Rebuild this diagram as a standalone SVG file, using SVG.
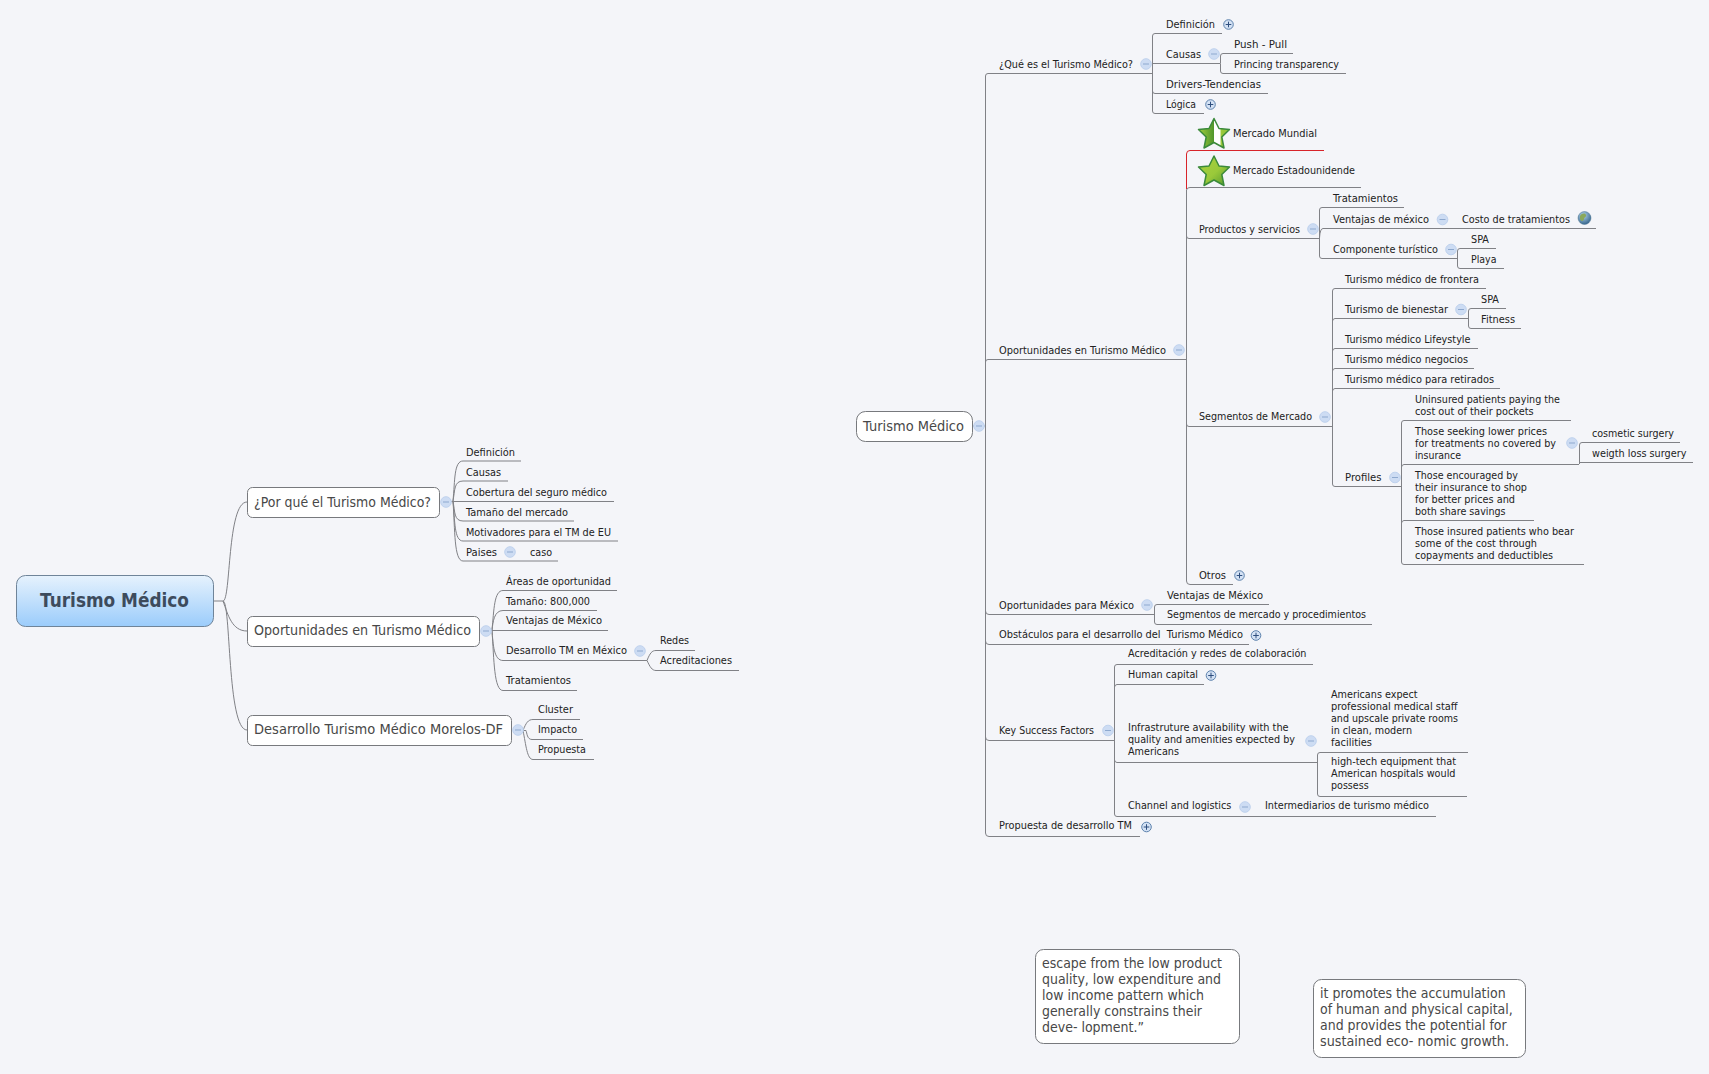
<svg xmlns="http://www.w3.org/2000/svg" width="1709" height="1074" viewBox="0 0 1709 1074">
<style>
text{font-family:"DejaVu Sans","Liberation Sans",sans-serif;white-space:pre}
.t{font-size:10.5px;fill:#222}
.b{font-size:13.5px;fill:#484848}
.r{font-size:19.5px;font-weight:bold;fill:#3d4b5c}
.box{fill:#fff;stroke:#77797d;stroke-width:1}
#connectors path{fill:none;stroke:#808186;stroke-width:1}
#connectors path.red{stroke:#d8242a}
</style>
<defs>
<linearGradient id="rootFill" x1="0" y1="0" x2="0" y2="1"><stop offset="0" stop-color="#e6f2fd"/><stop offset="1" stop-color="#9bccfb"/></linearGradient>
<linearGradient id="starFill" x1="0" y1="0" x2="1" y2="1"><stop offset="0" stop-color="#a9d23f"/><stop offset=".55" stop-color="#9ac93a"/><stop offset="1" stop-color="#4f962c"/></linearGradient>
<linearGradient id="starHalf" x1="0" y1="0" x2="1" y2="0"><stop offset="0" stop-color="#a5cf3c"/><stop offset=".5" stop-color="#4f962c"/><stop offset=".5" stop-color="#fff"/><stop offset=".68" stop-color="#fff"/><stop offset=".74" stop-color="#9ac93a"/><stop offset="1" stop-color="#8cc23a"/></linearGradient>
<radialGradient id="globeFill" cx=".4" cy=".3" r=".75"><stop offset="0" stop-color="#b4d6ee"/><stop offset="1" stop-color="#2f5f86"/></radialGradient>
<g id="minus"><circle r="5.3" fill="#cddcf3" stroke="#bfd2ee"/><path d="M-3,0H3" stroke="#8ea9cf" stroke-width="1"/></g>
<g id="plus"><circle r="4.8" fill="#d3e1f4" stroke="#5d82ad"/><path d="M-2.8,0H2.8M0,-2.8V2.8" stroke="#2f4f7f" stroke-width="1"/></g>
<polygon id="star" points="0,-15 5,-5 15.5,-4 7.8,3.5 10,14.5 0,9 -10,14.5 -7.8,3.5 -15.5,-4 -5,-5" stroke="#3b8a3b" stroke-width="1.5" stroke-linejoin="round"/>
</defs>
<rect width="1709" height="1074" fill="#f4f5f9"/>
<g id="connectors">
<path d="M213,601H223M223,601C231,601 227,502 247,502M223,601C228,615 232,631 247,631M223,601C231,601 227,730 247,730"/>
<path d="M451,501.5H614M453,501C455,480 454,461 463,461H521M453,501C455,490 454,481 463,481H508M453,501C455,512 454,521 463,521H574M453,501C455,520 454,541 463,541H618M453,501C455,530 454,561 463,561H558"/>
<path d="M491,630.5H608M492,630C494,610 494,590.5 503,590.5H617M492,630C493,622 494,610.5 503,610.5H597M492,630C493,645 494,660.5 503,660.5H647M492,630C494,660 494,690.5 503,690.5H577"/>
<path d="M647,660.5C650,653 652,650.5 656,650.5H695M647,660.5C650,667 652,670.5 656,670.5H739"/>
<path d="M523,730.5C526,723 528,719.5 533,719.5H580M523,730.5H526C527,733 527,739.5 532,739.5H583M523,730.5C526,745 527,759.5 533,759.5H594"/>
<path d="M985.5,426H973M985.5,426V76Q985.5,73.5 988,73.5H1152M985.5,426V362Q985.5,359.5 988,359.5H1186M985.5,426V833Q985.5,836.5 989,836.5H1140M985.5,611Q985.5,614.5 989,614.5H1154M985.5,641Q985.5,644.5 989,644.5H1249M985.5,737Q985.5,740.5 989,740.5H1114"/>
<path d="M1152.5,73V36Q1152.5,33.5 1155,33.5H1222M1152.5,73V111Q1152.5,113.5 1155,113.5H1204M1152.5,63.5H1220M1152.5,91Q1152.5,93.5 1155,93.5H1268"/>
<path d="M1220.5,63.5V56Q1220.5,53.5 1223,53.5H1293M1220.5,63.5V71Q1220.5,73.5 1223,73.5H1346"/>
<path d="M1186.5,190V581Q1186.5,584.5 1190,584.5H1233M1186.5,190Q1187,187.5 1190,187.5H1361M1186.5,236Q1186.5,238.5 1189,238.5H1319M1186.5,424Q1186.5,426.5 1189,426.5H1332"/>
<path class="red" d="M1186.5,189V154Q1186.5,150.5 1190,150.5H1324"/>
<path d="M1319.5,238V210Q1319.5,207.5 1322,207.5H1404M1319.5,238V256Q1319.5,258.5 1322,258.5H1457M1319.5,238Q1320,228.5 1323,228.5H1596"/>
<path d="M1457.5,258V251Q1457.5,248.5 1460,248.5H1496M1457.5,258V266Q1457.5,268.5 1460,268.5H1504"/>
<path d="M1332.5,426V291Q1332.5,288.5 1335,288.5H1486M1332.5,426V484Q1332.5,486.5 1335,486.5H1401M1332.5,321Q1333,318.5 1335,318.5H1468M1332.5,351Q1333,348.5 1335,348.5H1478M1332.5,371Q1333,368.5 1335,368.5H1474M1332.5,391Q1333,388.5 1335,388.5H1500"/>
<path d="M1468.5,318V311Q1468.5,308.5 1471,308.5H1506M1468.5,318V326Q1468.5,328.5 1471,328.5H1521"/>
<path d="M1401.5,486V423Q1401.5,420.5 1404,420.5H1571M1401.5,486V562Q1401.5,564.5 1404,564.5H1584M1401.5,467Q1402,464.5 1404,464.5H1579M1401.5,523Q1402,520.5 1404,520.5H1534"/>
<path d="M1579.5,464V445Q1579.5,442.5 1582,442.5H1680M1579.5,462.5H1693"/>
<path d="M1154.5,614V607Q1154.5,604.5 1157,604.5H1269M1154.5,614V622Q1154.5,624.5 1157,624.5H1372"/>
<path d="M1114.5,740V667Q1114.5,664.5 1117,664.5H1313M1114.5,740V814Q1114.5,816.5 1117,816.5H1436M1114.5,687Q1115,684.5 1117,684.5H1204M1114.5,760Q1115,762.5 1117,762.5H1318"/>
<path d="M1317.5,762V755Q1317.5,752.5 1320,752.5H1468M1317.5,762V794Q1317.5,796.5 1320,796.5H1467"/>
</g>
<g id="node-root-left"><rect x="16.5" y="575.5" width="197" height="51" rx="9" fill="url(#rootFill)" stroke="#6f8499"/><text class="r" x="40" y="607" textLength="149" lengthAdjust="spacingAndGlyphs">Turismo Médico</text></g>
<g id="node-por-que"><rect class="box" x="247.5" y="487.5" width="192" height="30" rx="5"/><text class="b" x="254" y="506.5" textLength="177" lengthAdjust="spacingAndGlyphs">¿Por qué el Turismo Médico?</text><use href="#minus" x="446" y="502"/></g>
<g id="node-oportunidades-left"><rect class="box" x="247.5" y="616.5" width="232" height="30" rx="5"/><text class="b" x="254" y="635" textLength="217" lengthAdjust="spacingAndGlyphs">Oportunidades en Turismo Médico</text><use href="#minus" x="486" y="631"/></g>
<g id="node-desarrollo-left"><rect class="box" x="247.5" y="715.5" width="264" height="30" rx="5"/><text class="b" x="254" y="734" textLength="249" lengthAdjust="spacingAndGlyphs">Desarrollo Turismo Médico Morelos-DF</text><use href="#minus" x="518" y="730"/></g>
<g id="node-l-definicion"><text class="t" x="466" y="455.5" textLength="49" lengthAdjust="spacingAndGlyphs">Definición</text></g>
<g id="node-l-causas"><text class="t" x="466" y="475.5" textLength="35" lengthAdjust="spacingAndGlyphs">Causas</text></g>
<g id="node-l-cobertura"><text class="t" x="466" y="495.5" textLength="141" lengthAdjust="spacingAndGlyphs">Cobertura del seguro médico</text></g>
<g id="node-l-tamano"><text class="t" x="466" y="515.5" textLength="102" lengthAdjust="spacingAndGlyphs">Tamaño del mercado</text></g>
<g id="node-l-motivadores"><text class="t" x="466" y="535.5" textLength="145" lengthAdjust="spacingAndGlyphs">Motivadores para el TM de EU</text></g>
<g id="node-l-paises"><text class="t" x="466" y="555.5" textLength="31" lengthAdjust="spacingAndGlyphs">Paises</text><use href="#minus" x="510" y="552"/></g>
<g id="node-l-caso"><text class="t" x="530" y="555.5" textLength="22" lengthAdjust="spacingAndGlyphs">caso</text></g>
<g id="node-l-areas"><text class="t" x="506" y="584.5" textLength="105" lengthAdjust="spacingAndGlyphs">Áreas de oportunidad</text></g>
<g id="node-l-tamano2"><text class="t" x="506" y="604.5" textLength="84" lengthAdjust="spacingAndGlyphs">Tamaño: 800,000</text></g>
<g id="node-l-ventajas"><text class="t" x="506" y="623.5" textLength="96" lengthAdjust="spacingAndGlyphs">Ventajas de México</text></g>
<g id="node-l-desarrollotm"><text class="t" x="506" y="654" textLength="121" lengthAdjust="spacingAndGlyphs">Desarrollo TM en México</text><use href="#minus" x="640" y="651"/></g>
<g id="node-l-tratamientos"><text class="t" x="506" y="684" textLength="65" lengthAdjust="spacingAndGlyphs">Tratamientos</text></g>
<g id="node-l-redes"><text class="t" x="660" y="644" textLength="29" lengthAdjust="spacingAndGlyphs">Redes</text></g>
<g id="node-l-acreditaciones"><text class="t" x="660" y="664" textLength="72" lengthAdjust="spacingAndGlyphs">Acreditaciones</text></g>
<g id="node-l-cluster"><text class="t" x="538" y="713" textLength="35" lengthAdjust="spacingAndGlyphs">Cluster</text></g>
<g id="node-l-impacto"><text class="t" x="538" y="733" textLength="39" lengthAdjust="spacingAndGlyphs">Impacto</text></g>
<g id="node-l-propuesta"><text class="t" x="538" y="753" textLength="48" lengthAdjust="spacingAndGlyphs">Propuesta</text></g>
<g id="node-root-right"><rect class="box" x="856.5" y="411.5" width="116" height="30" rx="9"/><text class="b" x="863" y="431" textLength="101" lengthAdjust="spacingAndGlyphs">Turismo Médico</text><use href="#minus" x="979" y="426"/></g>
<g id="node-que-es"><text class="t" x="999" y="68" textLength="134" lengthAdjust="spacingAndGlyphs">¿Qué es el Turismo Médico?</text><use href="#minus" x="1146" y="64"/></g>
<g id="node-r-definicion"><text class="t" x="1166" y="28" textLength="49" lengthAdjust="spacingAndGlyphs">Definición</text><use href="#plus" x="1228.5" y="24.5"/></g>
<g id="node-r-causas"><text class="t" x="1166" y="58" textLength="35" lengthAdjust="spacingAndGlyphs">Causas</text><use href="#minus" x="1214" y="54"/></g>
<g id="node-r-push"><text class="t" x="1234" y="48" textLength="53" lengthAdjust="spacingAndGlyphs">Push - Pull</text></g>
<g id="node-r-princing"><text class="t" x="1234" y="68" textLength="105" lengthAdjust="spacingAndGlyphs">Princing transparency</text></g>
<g id="node-r-drivers"><text class="t" x="1166" y="88" textLength="95" lengthAdjust="spacingAndGlyphs">Drivers-Tendencias</text></g>
<g id="node-r-logica"><text class="t" x="1166" y="108" textLength="30" lengthAdjust="spacingAndGlyphs">Lógica</text><use href="#plus" x="1210.5" y="104.5"/></g>
<g id="node-oportunidades-right"><text class="t" x="999" y="354" textLength="167" lengthAdjust="spacingAndGlyphs">Oportunidades en Turismo Médico</text><use href="#minus" x="1179" y="350"/></g>
<g id="node-mundial"><use href="#star" x="1214" y="133.5" fill="url(#starHalf)"/><text class="t" x="1233" y="137" textLength="84" lengthAdjust="spacingAndGlyphs">Mercado Mundial</text></g>
<g id="node-estadounidende"><use href="#star" x="1214" y="171" fill="url(#starFill)"/><text class="t" x="1233" y="174" textLength="122" lengthAdjust="spacingAndGlyphs">Mercado Estadounidende</text></g>
<g id="node-productos"><text class="t" x="1199" y="232.5" textLength="101" lengthAdjust="spacingAndGlyphs">Productos y servicios</text><use href="#minus" x="1313" y="229"/></g>
<g id="node-p-tratamientos"><text class="t" x="1333" y="202" textLength="65" lengthAdjust="spacingAndGlyphs">Tratamientos</text></g>
<g id="node-p-ventajas"><text class="t" x="1333" y="223" textLength="96" lengthAdjust="spacingAndGlyphs">Ventajas de méxico</text><use href="#minus" x="1442.5" y="219.5"/></g>
<g id="node-p-costo"><text class="t" x="1462" y="222.5" textLength="108" lengthAdjust="spacingAndGlyphs">Costo de tratamientos</text><circle cx="1584.5" cy="218" r="6.5" fill="url(#globeFill)" stroke="#4d7591" stroke-width=".5"/><path d="M1580,216c2-3,5-3,6-1c1,2-2,2-2,4c0,2-3,3-4,0z" fill="#8aa85a"/></g>
<g id="node-p-componente"><text class="t" x="1333" y="253" textLength="105" lengthAdjust="spacingAndGlyphs">Componente turístico</text><use href="#minus" x="1451" y="249.5"/></g>
<g id="node-p-spa"><text class="t" x="1471" y="243" textLength="18" lengthAdjust="spacingAndGlyphs">SPA</text></g>
<g id="node-p-playa"><text class="t" x="1471" y="263" textLength="25.5" lengthAdjust="spacingAndGlyphs">Playa</text></g>
<g id="node-segmentos"><text class="t" x="1199" y="420" textLength="113" lengthAdjust="spacingAndGlyphs">Segmentos de Mercado</text><use href="#minus" x="1325" y="417"/></g>
<g id="node-s-frontera"><text class="t" x="1345" y="283" textLength="134" lengthAdjust="spacingAndGlyphs">Turismo médico de frontera</text></g>
<g id="node-s-bienestar"><text class="t" x="1345" y="313" textLength="103" lengthAdjust="spacingAndGlyphs">Turismo de bienestar</text><use href="#minus" x="1461" y="309.5"/></g>
<g id="node-s-spa"><text class="t" x="1481" y="303" textLength="18" lengthAdjust="spacingAndGlyphs">SPA</text></g>
<g id="node-s-fitness"><text class="t" x="1481" y="323" textLength="34" lengthAdjust="spacingAndGlyphs">Fitness</text></g>
<g id="node-s-lifestyle"><text class="t" x="1345" y="343" textLength="125.5" lengthAdjust="spacingAndGlyphs">Turismo médico Lifeystyle</text></g>
<g id="node-s-negocios"><text class="t" x="1345" y="363" textLength="123" lengthAdjust="spacingAndGlyphs">Turismo médico negocios</text></g>
<g id="node-s-retirados"><text class="t" x="1345" y="383" textLength="149" lengthAdjust="spacingAndGlyphs">Turismo médico para retirados</text></g>
<g id="node-s-profiles"><text class="t" x="1345" y="480.5" textLength="36.5" lengthAdjust="spacingAndGlyphs">Profiles</text><use href="#minus" x="1395" y="477.5"/></g>
<g id="node-uninsured"><text class="t" x="1415" y="402.5" textLength="145" lengthAdjust="spacingAndGlyphs">Uninsured patients paying the</text><text class="t" x="1415" y="414.5" textLength="118.6" lengthAdjust="spacingAndGlyphs">cost out of their pockets</text></g>
<g id="node-seeking"><text class="t" x="1415" y="434.5" textLength="132" lengthAdjust="spacingAndGlyphs">Those seeking lower prices</text><text class="t" x="1415" y="446.5" textLength="141" lengthAdjust="spacingAndGlyphs">for treatments no covered by</text><text class="t" x="1415" y="458.5" textLength="46" lengthAdjust="spacingAndGlyphs">insurance</text><use href="#minus" x="1572" y="443"/></g>
<g id="node-cosmetic"><text class="t" x="1592" y="437" textLength="82" lengthAdjust="spacingAndGlyphs">cosmetic surgery</text></g>
<g id="node-weigth"><text class="t" x="1592" y="457" textLength="94.4" lengthAdjust="spacingAndGlyphs">weigth loss surgery</text></g>
<g id="node-encouraged"><text class="t" x="1415" y="478.5" textLength="103" lengthAdjust="spacingAndGlyphs">Those encouraged by</text><text class="t" x="1415" y="490.5" textLength="112" lengthAdjust="spacingAndGlyphs">their insurance to shop</text><text class="t" x="1415" y="502.5" textLength="100" lengthAdjust="spacingAndGlyphs">for better prices and</text><text class="t" x="1415" y="514.5" textLength="90.6" lengthAdjust="spacingAndGlyphs">both share savings</text></g>
<g id="node-insured"><text class="t" x="1415" y="534.5" textLength="159" lengthAdjust="spacingAndGlyphs">Those insured patients who bear</text><text class="t" x="1415" y="546.5" textLength="122" lengthAdjust="spacingAndGlyphs">some of the cost through</text><text class="t" x="1415" y="558.5" textLength="138" lengthAdjust="spacingAndGlyphs">copayments and deductibles</text></g>
<g id="node-otros"><text class="t" x="1199" y="578.5" textLength="27" lengthAdjust="spacingAndGlyphs">Otros</text><use href="#plus" x="1239.5" y="575.5"/></g>
<g id="node-para-mexico"><text class="t" x="999" y="608.5" textLength="135" lengthAdjust="spacingAndGlyphs">Oportunidades para México</text><use href="#minus" x="1147" y="605"/></g>
<g id="node-m-ventajas"><text class="t" x="1167" y="598.5" textLength="96" lengthAdjust="spacingAndGlyphs">Ventajas de México</text></g>
<g id="node-m-segmentos"><text class="t" x="1167" y="617.5" textLength="199" lengthAdjust="spacingAndGlyphs">Segmentos de mercado y procedimientos</text></g>
<g id="node-obstaculos"><text class="t" x="999" y="637.5" textLength="244" lengthAdjust="spacingAndGlyphs">Obstáculos para el desarrollo del  Turismo Médico</text><use href="#plus" x="1256" y="635.5"/></g>
<g id="node-ksf"><text class="t" x="999" y="733.5" textLength="95" lengthAdjust="spacingAndGlyphs">Key Success Factors</text><use href="#minus" x="1108" y="730.5"/></g>
<g id="node-k-acreditacion"><text class="t" x="1128" y="657" textLength="178.5" lengthAdjust="spacingAndGlyphs">Acreditación y redes de colaboración</text></g>
<g id="node-k-human"><text class="t" x="1128" y="677.5" textLength="70" lengthAdjust="spacingAndGlyphs">Human capital</text><use href="#plus" x="1211" y="675.5"/></g>
<g id="node-k-infra"><text class="t" x="1128" y="731" textLength="160.6" lengthAdjust="spacingAndGlyphs">Infrastruture availability with the</text><text class="t" x="1128" y="743" textLength="167" lengthAdjust="spacingAndGlyphs">quality and amenities expected by</text><text class="t" x="1128" y="755" textLength="51" lengthAdjust="spacingAndGlyphs">Americans</text><use href="#minus" x="1311" y="741"/></g>
<g id="node-k-americans"><text class="t" x="1331" y="697.5" textLength="86.6" lengthAdjust="spacingAndGlyphs">Americans expect</text><text class="t" x="1331" y="709.5" textLength="126.6" lengthAdjust="spacingAndGlyphs">professional medical staff</text><text class="t" x="1331" y="721.5" textLength="127" lengthAdjust="spacingAndGlyphs">and upscale private rooms</text><text class="t" x="1331" y="733.5" textLength="81" lengthAdjust="spacingAndGlyphs">in clean, modern</text><text class="t" x="1331" y="745.5" textLength="41" lengthAdjust="spacingAndGlyphs">facilities</text></g>
<g id="node-k-hightech"><text class="t" x="1331" y="765" textLength="125" lengthAdjust="spacingAndGlyphs">high-tech equipment that</text><text class="t" x="1331" y="777" textLength="124.5" lengthAdjust="spacingAndGlyphs">American hospitals would</text><text class="t" x="1331" y="789" textLength="37.6" lengthAdjust="spacingAndGlyphs">possess</text></g>
<g id="node-k-channel"><text class="t" x="1128" y="809" textLength="103.4" lengthAdjust="spacingAndGlyphs">Channel and logistics</text><use href="#minus" x="1245" y="807"/></g>
<g id="node-k-intermediarios"><text class="t" x="1265" y="809" textLength="164" lengthAdjust="spacingAndGlyphs">Intermediarios de turismo médico</text></g>
<g id="node-propuesta-right"><text class="t" x="999" y="829" textLength="133" lengthAdjust="spacingAndGlyphs">Propuesta de desarrollo TM</text><use href="#plus" x="1146.5" y="827"/></g>
<g id="node-note-1"><rect class="box" x="1035.5" y="949.5" width="204" height="94" rx="8"/><text class="b" x="1042" y="967.5" textLength="180" lengthAdjust="spacingAndGlyphs">escape from the low product</text><text class="b" x="1042" y="983.5" textLength="179" lengthAdjust="spacingAndGlyphs">quality, low expenditure and</text><text class="b" x="1042" y="999.5" textLength="162" lengthAdjust="spacingAndGlyphs">low income pattern which</text><text class="b" x="1042" y="1015.5" textLength="160" lengthAdjust="spacingAndGlyphs">generally constrains their</text><text class="b" x="1042" y="1031.5" textLength="102" lengthAdjust="spacingAndGlyphs">deve- lopment.”</text></g>
<g id="node-note-2"><rect class="box" x="1313.5" y="979.5" width="212" height="78" rx="8"/><text class="b" x="1320" y="997.5" textLength="185.7" lengthAdjust="spacingAndGlyphs">it promotes the accumulation</text><text class="b" x="1320" y="1013.5" textLength="192.7" lengthAdjust="spacingAndGlyphs">of human and physical capital,</text><text class="b" x="1320" y="1029.5" textLength="186.7" lengthAdjust="spacingAndGlyphs">and provides the potential for</text><text class="b" x="1320" y="1045.5" textLength="189" lengthAdjust="spacingAndGlyphs">sustained eco- nomic growth.</text></g>
</svg>
